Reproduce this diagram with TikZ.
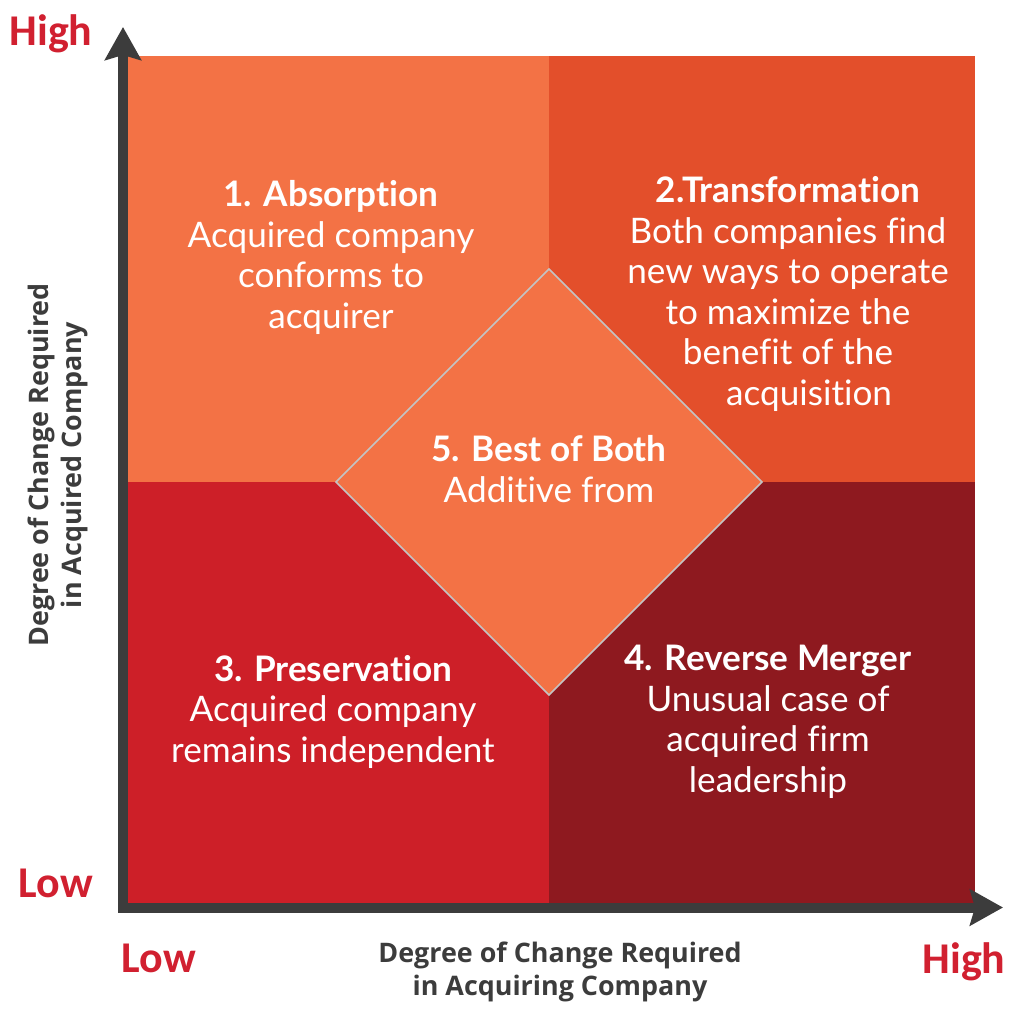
\documentclass[tikz,border=0pt]{standalone}
\usepackage{fontspec}
\usetikzlibrary{arrows.meta}
\setmainfont{Lato}[Ligatures=NoCommon]
\newfontfamily\axisfont{Open Sans}
\newfontfamily\levelfont{Carlito}
\definecolor{absorb}{HTML}{F37245}
\definecolor{transf}{HTML}{E34F2B}
\definecolor{preserv}{HTML}{CD1F28}
\definecolor{revmerge}{HTML}{8E191F}
\definecolor{axisgray}{HTML}{3C3C3C}
\definecolor{levelred}{HTML}{D12030}
\definecolor{rimgray}{HTML}{C4C4C4}
\tikzset{
  quadtext/.style={text=white, align=center, inner sep=0pt, anchor=base,
    font=\fontsize{20}{23}\selectfont},
  axislabel/.style={text=axisgray, align=center, inner sep=0pt,
    font=\axisfont\bfseries\fontsize{15.3}{18.8}\selectfont},
  levellabel/.style={text=levelred, inner sep=0pt, anchor=base,
    font=\levelfont\bfseries\fontsize{25}{30}\selectfont}
}
\begin{document}
\begin{tikzpicture}[x=0.02cm, y=-0.02cm]
  \useasboundingbox (0,0) rectangle (1024,1024);
  % quadrants
  \fill [absorb] (128,56) rectangle (549,482);
  \fill [transf] (549,56) rectangle (975,482);
  \fill [preserv] (128,482) rectangle (549,904);
  \fill [revmerge] (549,482) rectangle (975,904);
  \draw [fill=absorb, draw=rimgray, line width=0.9pt] (549,269) -- (762,482) -- (549,695) -- (336,482) -- cycle;
  % axes
  \coordinate (origin) at (123,907.5);
  \coordinate (ytip) at (123,27);
  \coordinate (xtip) at (1003,907.5);
  \draw [axisgray, line width=5.7pt, line join=miter,
    arrows={Stealth[length=0.66cm, width=0.72cm, inset=0.1cm]-Stealth[length=0.66cm, width=0.72cm, inset=0.1cm]}]
    (ytip) -- (origin) -- (xtip);
  % texts (anchored at the baseline of the last line)
  \node [quadtext] (absorption) at (331,328) {\textbf{1. Absorption}\\Acquired company\\conforms to\\acquirer};
  \node [quadtext] (transformation) at (788,405) {\textbf{2.Transformation}\\Both companies find\\new ways to operate\\to maximize the\\benefit of the\\\hspace{1.2em}acquisition};
  \node [quadtext] (preservation) at (333,762) {\textbf{3. Preservation}\\Acquired company\\remains independent};
  \node [quadtext] (reverse) at (768,792) {\textbf{4. Reverse Merger}\\Unusual case of\\acquired firm\\leadership};
  \node [quadtext] (bestofboth) at (549,502) {\textbf{5. Best of Both}\\Additive from};
  \node [levellabel] (yhigh) at (51,46) {High};
  \node [levellabel] (ylow) at (56,897) {Low};
  \node [levellabel] (xlow) at (159,972) {Low};
  \node [levellabel] (xhigh) at (964,973) {High};
  \node [axislabel] (xlabel) at (560,972) {Degree of Change Required\\in Acquiring Company};
  \node [axislabel, rotate=90] (ylabel) at (58,465) {Degree of Change Required\\in Acquired Company};
\end{tikzpicture}
\end{document}
